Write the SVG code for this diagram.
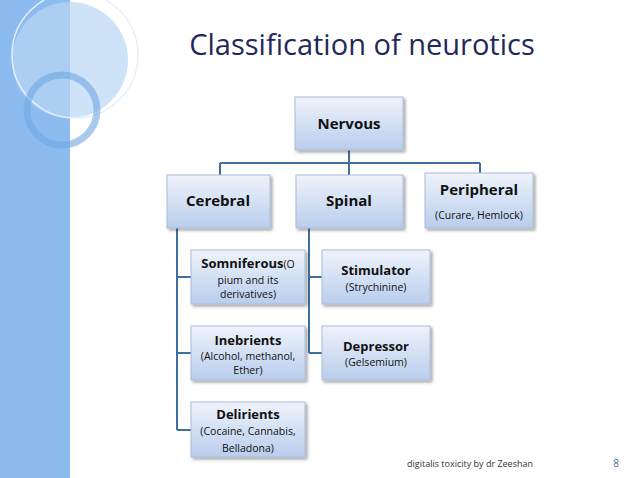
<svg xmlns="http://www.w3.org/2000/svg" width="638" height="478" viewBox="0 0 638 478">
<defs>
<linearGradient id="g" x1="0" y1="0" x2="0" y2="1"><stop offset="0" stop-color="#eef3fb"/><stop offset="1" stop-color="#b9cdec"/></linearGradient>
<filter id="sh" x="-10%" y="-10%" width="130%" height="130%"><feDropShadow dx="2" dy="2" stdDeviation="1.5" flood-color="#000" flood-opacity="0.35"/></filter>
</defs>
<style>
.b{fill:url(#g);stroke:#a9bcd8;stroke-width:1;filter:url(#sh)}
.t{font-family:"Open Sans","DejaVu Sans",sans-serif;fill:#111;text-anchor:middle}
.h{font-size:15px;font-weight:bold}
.s{font-size:10.5px}
.c{fill:none;stroke:#3f6f9e;stroke-width:2}
</style>
<rect width="638" height="478" fill="#fff"/>
<rect width="70" height="478" fill="#8cbcef"/>
<circle cx="70" cy="60" r="58" fill="#b9d6f5" opacity="0.7"/>
<circle cx="75" cy="55" r="63" fill="none" stroke="#e6f0fb" stroke-width="1.5"/>
<circle cx="62" cy="110" r="35" fill="none" stroke="#6fa6e2" stroke-width="7" opacity="0.6"/>
<text x="362" y="55" font-family="'Open Sans','DejaVu Sans',sans-serif" font-size="29" fill="#1f2a5a" text-anchor="middle">Classification of neurotics</text>
<g id="connectors">
<path class="c" d="M349 150V163M220 163H480M220 163V175M349 163V175M480 163V173"/>
<path class="c" d="M177 228V430M177 277H191M177 353H191M177 430H191"/>
<path class="c" d="M309 228V353M309 277H322M309 353H322"/>
</g>
<g id="nervous"><rect class="b" x="295" y="97" width="108" height="53"/><text class="t h" x="349" y="129">Nervous</text></g>
<g id="cerebral"><rect class="b" x="167" y="175" width="103" height="53"/><text class="t h" x="218" y="206">Cerebral</text></g>
<g id="spinal"><rect class="b" x="296" y="175" width="107" height="53"/><text class="t h" x="349" y="206">Spinal</text></g>
<g id="peripheral"><rect class="b" x="425" y="173" width="108" height="55"/><text class="t h" x="479" y="195">Peripheral</text><text class="t s" x="479" y="219">(Curare, Hemlock)</text></g>
<g id="somniferous"><rect class="b" x="191" y="250" width="114" height="54"/><text class="t" x="248" y="268"><tspan font-size="13" font-weight="bold">Somniferous</tspan><tspan font-size="10.5">(O</tspan></text><text class="t s" x="248" y="284">pium and its</text><text class="t s" x="248" y="298">derivatives)</text></g>
<g id="inebrients"><rect class="b" x="191" y="326" width="114" height="54"/><text class="t" x="248" y="345" font-size="13" font-weight="bold">Inebrients</text><text class="t s" x="248" y="360">(Alcohol, methanol,</text><text class="t s" x="248" y="374">Ether)</text></g>
<g id="delirients"><rect class="b" x="191" y="402" width="114" height="55"/><text class="t" x="248" y="419" font-size="13" font-weight="bold">Delirients</text><text class="t s" x="248" y="435">(Cocaine, Cannabis,</text><text class="t s" x="248" y="452">Belladona)</text></g>
<g id="stimulator"><rect class="b" x="322" y="250" width="108" height="54"/><text class="t" x="376" y="275" font-size="13" font-weight="bold">Stimulator</text><text class="t s" x="376" y="291">(Strychinine)</text></g>
<g id="depressor"><rect class="b" x="322" y="326" width="108" height="54"/><text class="t" x="376" y="351" font-size="13" font-weight="bold">Depressor</text><text class="t s" x="376" y="366">(Gelsemium)</text></g>
<text x="470" y="467" font-family="'Open Sans','DejaVu Sans',sans-serif" font-size="9" fill="#333" text-anchor="middle">digitalis toxicity by dr Zeeshan</text>
<text x="616" y="467" font-family="'Open Sans','DejaVu Sans',sans-serif" font-size="10" fill="#4a6fa5" text-anchor="middle">8</text>
</svg>
